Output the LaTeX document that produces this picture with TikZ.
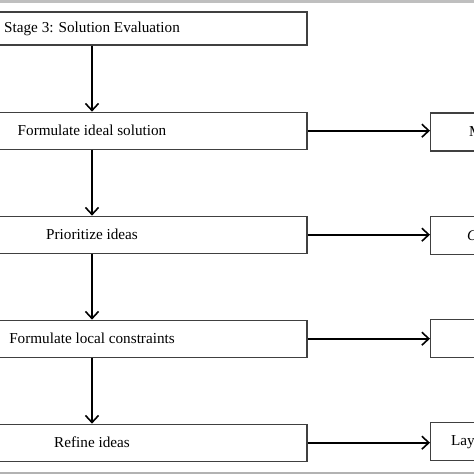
\documentclass[tikz,border=0pt]{standalone}
\usepackage{fontspec}
\setmainfont{Liberation Serif}
\usetikzlibrary{arrows.meta, positioning}

\tikzset{
  lbox/.style={draw=black!75, line width=1.1pt, minimum width=430pt, minimum height=37pt, inner sep=0pt},
  rbox/.style={draw=black!75, line width=1.1pt, minimum width=120pt, minimum height=38pt, inner sep=0pt, anchor=west},
  arr/.style={draw, line width=1.6pt, -{Straight Barb[length=7pt, width=13pt, line width=1.6pt]}}
}

\begin{document}
\begin{tikzpicture}[x=1pt, y=-1pt, font=\fontsize{15.2}{18}\selectfont]
  \useasboundingbox (0,0) rectangle (474,474);
  \clip (0,0) rectangle (474,474);
  \fill[black!25] (0,0) rectangle (474,2.5);
  \fill[black!30] (0,472) rectangle (474,474);

  % left column
  \node[lbox, minimum height=33pt] (stage) at (92,28.5) {};
  \node[anchor=west, inner sep=0pt] (stagetxt) at (4,28.5) {Stage 3: Solution Evaluation};
  \node[lbox] (ideal) at (92,130.7) {Formulate ideal solution};
  \node[lbox] (prio) at (92,234.7) {Prioritize ideas};
  \node[lbox] (local) at (92,338.7) {Formulate local constraints};
  \node[lbox] (refine) at (92,442.7) {Refine ideas};

  % right column
  \node[rbox, label={[anchor=west, inner sep=0pt, xshift=39pt]west:M}] (m) at (430,132) {};
  \node[rbox, label={[anchor=west, inner sep=0pt, xshift=37pt]west:\textit{C}}] (c) at (430,235.7) {};
  \node[rbox] (e) at (430,338.5) {};
  \node[rbox, label={[anchor=west, inner sep=0pt, xshift=21pt]west:Lay}] (lay) at (430,441.8) {};

  \foreach \a/\b in {ideal/prio, prio/local, local/refine}
    \path[arr] (\a) -- (\b);
  \path[arr] (stage.south -| ideal.north) -- (ideal.north);

  \foreach \a/\b in {ideal/m, prio/c, local/e, refine/lay}
    \path[arr] (\a.east) -- (\b.west |- \a.east);
\end{tikzpicture}
\end{document}
